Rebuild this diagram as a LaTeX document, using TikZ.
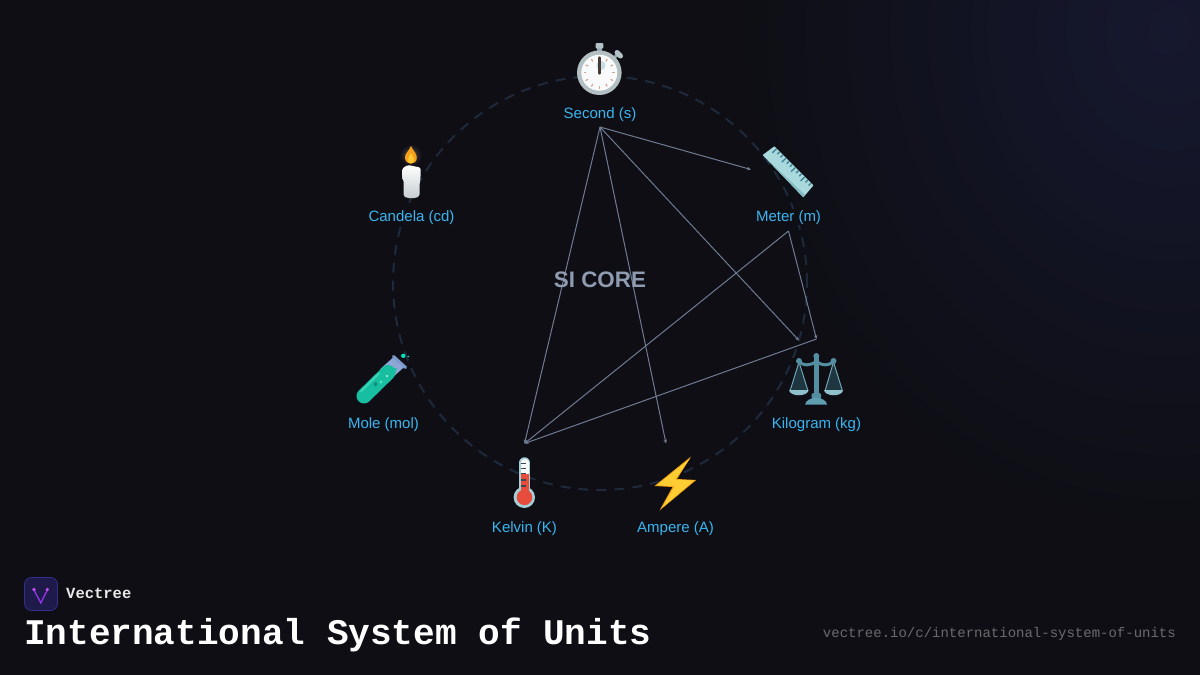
\documentclass[tikz,border=0pt]{standalone}
\usepackage{fontspec}
\setmainfont{Liberation Sans}
\newfontfamily\vmono{Liberation Mono}
\usetikzlibrary{arrows.meta,calc}
\definecolor{bgc}{HTML}{0E0E14}
\definecolor{glowc}{HTML}{16182F}
\definecolor{ringc}{HTML}{1E293B}
\definecolor{linkc}{HTML}{6F7B92}
\definecolor{labelc}{HTML}{38B6F0}
\definecolor{corec}{HTML}{8E9BB0}
\definecolor{waxbot}{HTML}{C5CED2}
\definecolor{halo}{HTML}{4A4A50}
\definecolor{logofill}{HTML}{1E1B4B}
\definecolor{logoedge}{HTML}{32308A}
\definecolor{brandc}{HTML}{E8E8E8}
\definecolor{urlc}{HTML}{6B6B6F}
\tikzset{
  x=1pt,y=-1pt,
  hexc/.code={\definecolor{tmpc}{HTML}{#1}\pgfkeysalso{/tikz/color=tmpc}},
  unitlabel/.style={font=\fontsize{15}{18}\selectfont,text=labelc,fill=bgc,inner sep=1pt,anchor=base},
  link/.style={draw=linkc,line width=1pt,-{Stealth[length=4pt,width=3.5pt]}},
}
\begin{document}
\begin{tikzpicture}
\useasboundingbox (0,0) rectangle (1200,675);
\fill[bgc] (0,0) rectangle (1200,675);
\begin{scope}
  \clip (0,0) rectangle (1200,675);
  \shade[inner color=glowc,outer color=bgc] (1170,30) ellipse [x radius=430pt,y radius=500pt];
\end{scope}
% ring
\draw[ringc,line width=2pt,dash pattern=on 10pt off 8pt] (600,283) circle [radius=207pt];
% ports
\coordinate (secondOut) at (600,127);
\coordinate (meterIn) at (751,169.5);
\coordinate (meterOut) at (788.5,231);
\coordinate (kiloIn) at (799,340.5);
\coordinate (kiloOut) at (816.5,339);
\coordinate (ampereIn) at (666,443.5);
\coordinate (kelvinIn) at (524.5,443.5);
% connectors
\draw[link] (secondOut) -- (meterIn);
\draw[link] (secondOut) -- (kiloIn);
\draw[link] (secondOut) -- (ampereIn);
\draw[link] (secondOut) -- (kelvinIn);
\draw[link] (meterOut) -- (kiloOut);
\draw[link] (meterOut) -- (kelvinIn);
\draw[link] (kiloOut) -- (kelvinIn);
% labels
\node[font=\bfseries\fontsize{22.4}{26}\selectfont,text=corec,anchor=base] (core) at (600,287.5) {SI CORE};
\node[unitlabel] (second) at (600,118) {Second (s)};
\node[unitlabel] (meter) at (788.5,221) {Meter (m)};
\node[unitlabel] (candela) at (411.5,221) {Candela (cd)};
\node[unitlabel] (mole) at (383.5,428) {Mole (mol)};
\node[unitlabel] (kilogram) at (816.5,428) {Kilogram (kg)};
\node[unitlabel] (kelvin) at (524.5,532) {Kelvin (K)};
\node[unitlabel] (ampere) at (675.5,532) {Ampere (A)};
% stopwatch
\fill[hexc=8FA3AB] (597.3,47) rectangle (601.7,53);
\fill[hexc=B4C2C8,rounded corners=1pt] (595.6,43) rectangle (603.4,48.5);
\draw[hexc=8FA3AB,line width=3pt] (612,60) -- (617,55);
\draw[hexc=B4C2C8,line width=5pt,line cap=round] (617,52.5) -- (620.5,56);
\fill[hexc=B3BFC3] (599.3,72.7) circle [radius=22.3pt];
\fill[hexc=F8FAFB] (599.3,72.7) circle [radius=18pt];
\fill[hexc=C5DDE6] (601,65.5) circle [radius=4.5pt];
\foreach \a in {0,30,...,330}{
  \draw[hexc=D2A98C,line width=1.2pt] ($(599.3,72.7)+(\a:15.8pt)$) -- ($(599.3,72.7)+(\a:13pt)$);
}
\draw[hexc=4A3A35,line width=2.4pt,line cap=round] (599.3,73.5) -- (599.3,57.5);
% ruler
\fill[hexc=A9D8DD,rounded corners=0.5pt] (762.7,155) -- (774.3,146.3) -- (813.5,185.3) -- (803.3,197.3) -- cycle;
\fill[hexc=86BCC4] (762.7,155) -- (764.6,157) -- (805.2,195) -- (803.3,197.3) -- cycle;
\foreach \t/\l in {0.06/6,0.14/3.5,0.22/3.5,0.30/6,0.38/3.5,0.46/3.5,0.54/6,0.62/3.5,0.70/3.5,0.78/6,0.86/3.5,0.94/3.5}{
  \draw[hexc=3F8595,line width=1.4pt] ($(774.3,146.3)!\t!(813.5,185.3)$) -- ++(-0.72*\l,0.70*\l);
}
% candle
\shade[inner color=halo,outer color=bgc] (410.7,155) circle [radius=11pt];
\fill[hexc=F9A01B] (411,146) .. controls (413,151) and (417,153) .. (416.8,158) .. controls (416.5,162) and (414,163.5) .. (411,163.5) .. controls (407.5,163.5) and (405,161) .. (405,157.5) .. controls (405,153) and (409,151) .. (411,146) -- cycle;
\fill[hexc=FFC933] (411,153) .. controls (412.5,156) and (414,157) .. (414,159.5) .. controls (414,162) and (412.5,163.5) .. (411,163.5) .. controls (409,163.5) and (408,162) .. (408,160) .. controls (408,157.5) and (410,156) .. (411,153) -- cycle;
\shade[top color=white,bottom color=waxbot,rounded corners=1.5pt] (402.5,168) -- (408,165) -- (420.5,167.5) -- (420.5,178) -- (419.5,185) -- (419.5,196) -- (416,198) -- (407,198) -- (403.5,196) -- (403.5,180) -- (402,178) -- cycle;
% test tube
\draw[hexc=8CA6D6,line width=14.5pt] (385,374.5) -- (399.5,361.5);
\draw[hexc=17BFA0,line width=15pt,line cap=round] (364,396) -- (388,372.5);
\fill[hexc=17BFA0] (386,367) -- (397,368.5) -- (392,378) -- (380,373) -- cycle;
\draw[hexc=3FD8BC,line width=1.5pt,line cap=round] (361,391.5) -- (379,373.5);
\fill[hexc=0F8F7A] (375.5,384) circle [radius=2pt];
\fill[hexc=4FE3CB] (381,382) circle [radius=1.6pt];
\fill[hexc=C5F5EC] (387,376) circle [radius=1.1pt];
\draw[hexc=7E9BCF,line width=3pt,line cap=round] (393.5,356.5) -- (405.5,367.5);
\fill[hexc=00E5C0] (403.3,355.8) circle [radius=2.2pt];
\fill[hexc=00E5C0] (408.3,356.5) circle [radius=0.9pt];
% thermometer
\draw[hexc=A5CFD6,line width=11.5pt,line cap=round] (524.5,463) -- (524.5,495);
\fill[hexc=A5CFD6] (524.3,497.3) circle [radius=10.7pt];
\draw[hexc=F7F8F8,line width=7.5pt,line cap=round] (525,462.5) -- (525,475);
\draw[hexc=E74C3C,line width=7.5pt] (525,473.5) -- (525,492);
\fill[hexc=E74C3C] (524.5,497.3) circle [radius=7.8pt];
\foreach \y/\l in {463.5/5,468.5/5,473.5/5,480/5,486/5}{
  \draw[hexc=40464C,line width=1.3pt] (520.5,\y) -- ++(\l,0);
}
% bolt
\fill[hexc=F59E0B] (691,456.5) -- (654.5,486) -- (672.5,487) -- (659.5,510.5) -- (696.2,480) -- (677,479) -- cycle;
\fill[hexc=FFCC33] (690,458.5) -- (656.5,485.3) -- (674.5,486.3) -- (661.8,508) -- (694.2,480.5) -- (675.2,479.5) -- cycle;
% scales
\fill[hexc=1E3640] (799,362) -- (790,391) -- (808,391) -- cycle;
\fill[hexc=1E3640] (833.5,362) -- (825,391) -- (842.5,391) -- cycle;
\draw[hexc=6FA5B5,line width=1pt] (799,362) -- (790,391) (799,362) -- (808,391);
\draw[hexc=6FA5B5,line width=1pt] (833.5,362) -- (825,391) (833.5,362) -- (842.5,391);
\fill[hexc=8FC0CC] (789,390) -- (808.5,390) .. controls (808,397) and (790,397) .. (789,390) -- cycle;
\fill[hexc=8FC0CC] (824,390) -- (843,390) .. controls (842.5,397) and (825,397) .. (824,390) -- cycle;
\draw[hexc=538EA1,line width=3pt] (799,361.5) .. controls (803,366) and (810,366) .. (816.3,361.5) .. controls (822,366) and (829,366) .. (833.5,361.5);
\draw[hexc=538EA1,line width=4.5pt] (816.3,357) -- (816.3,396);
\fill[hexc=538EA1] (816.3,356) circle [radius=3pt];
\fill[hexc=538EA1] (799,361) circle [radius=3pt];
\fill[hexc=538EA1] (833.5,361) circle [radius=3pt];
\fill[hexc=538EA1,rounded corners=1.5pt] (811.5,400) -- (811.5,393) -- (821,393) -- (821,400) -- cycle;
\fill[hexc=5F9DB0] (805,404.5) .. controls (806,400) and (811,398) .. (816.3,398) .. controls (821,398) and (826.5,400) .. (827,404.5) -- cycle;
% footer
\node[draw=logoedge,fill=logofill,rounded corners=7pt,minimum size=33pt,inner sep=0pt,line width=0.8pt] (logo) at (41,594) {};
\draw[hexc=9333EA,line width=1.3pt,line cap=round] (34,590) -- (40.8,603) -- (47.3,590);
\fill[hexc=C04CF0] (34,589.5) circle [radius=1.8pt] (47.3,589.5) circle [radius=1.8pt];
\node[font=\vmono\bfseries\fontsize{15.5}{19}\selectfont,text=brandc,anchor=base west,inner sep=0pt] (brand) at (66,598.5) {Vectree};
\node[font=\vmono\bfseries\fontsize{36.05}{42}\selectfont,text=white,anchor=base west,inner sep=0pt] (title) at (24,644.5) {International System of Units};
\node[font=\vmono\fontsize{14}{17}\selectfont,text=urlc,anchor=base east,inner sep=0pt] (url) at (1176,637.5) {vectree.io/c/international-system-of-units};
\end{tikzpicture}
\end{document}
